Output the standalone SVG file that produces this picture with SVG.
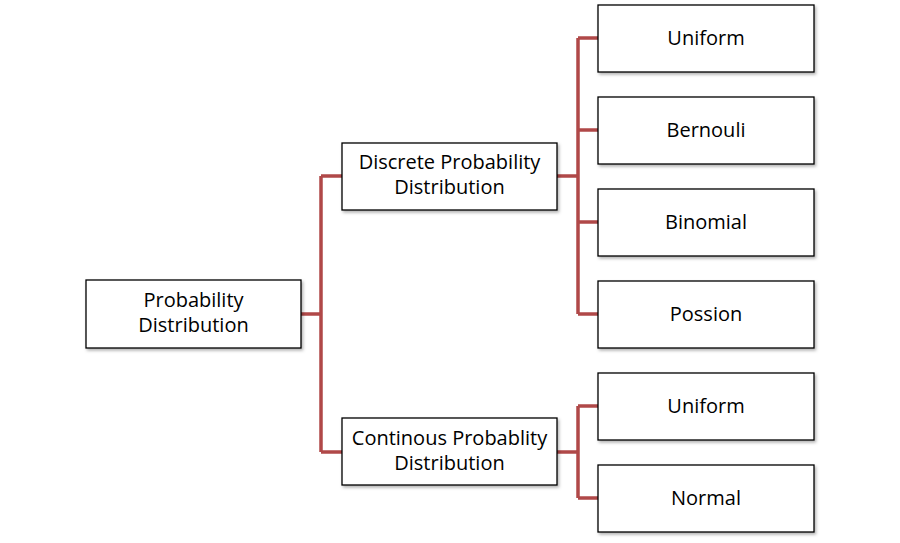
<svg xmlns="http://www.w3.org/2000/svg" width="900" height="543" viewBox="0 0 900 543">
<defs>
<filter id="sh" x="-10%" y="-10%" width="130%" height="140%"><feDropShadow dx="1.5" dy="2" stdDeviation="1.5" flood-color="#000" flood-opacity="0.3"/></filter>
</defs>
<style>
.b{fill:#fff;stroke:#000;stroke-width:1.3;filter:url(#sh)}
.t{font-family:"Open Sans","Liberation Sans",sans-serif;font-size:20px;fill:#000;text-anchor:middle}
.c{fill:none;stroke:#b04848;stroke-width:3.5}
</style>
<rect width="900" height="543" fill="#fff"/>
<g id="connectors">
<path class="c" d="M301 314H321M321 176V452M321 176H342M321 452H342"/>
<path class="c" d="M557 176H578M578 38V314M578 38H598M578 130H598M578 222H598M578 314H598"/>
<path class="c" d="M557 452H578M578 406V498M578 406H598M578 498H598"/>
</g>
<g id="root"><rect class="b" x="86" y="280" width="215" height="68"/><text class="t" x="193.5" y="307">Probability</text><text class="t" x="193.5" y="332">Distribution</text></g>
<g id="discrete"><rect class="b" x="342" y="143" width="215" height="67"/><text class="t" x="449.5" y="169">Discrete Probability</text><text class="t" x="449.5" y="194">Distribution</text></g>
<g id="continuous"><rect class="b" x="342" y="418" width="215" height="67"/><text class="t" x="449.5" y="445">Continous Probablity</text><text class="t" x="449.5" y="470">Distribution</text></g>
<g id="uniform1"><rect class="b" x="598" y="5" width="216" height="67"/><text class="t" x="706" y="45">Uniform</text></g>
<g id="bernouli"><rect class="b" x="598" y="97" width="216" height="67"/><text class="t" x="706" y="137">Bernouli</text></g>
<g id="binomial"><rect class="b" x="598" y="189" width="216" height="67"/><text class="t" x="706" y="229">Binomial</text></g>
<g id="possion"><rect class="b" x="598" y="281" width="216" height="67"/><text class="t" x="706" y="321">Possion</text></g>
<g id="uniform2"><rect class="b" x="598" y="373" width="216" height="67"/><text class="t" x="706" y="413">Uniform</text></g>
<g id="normal"><rect class="b" x="598" y="465" width="216" height="67"/><text class="t" x="706" y="505">Normal</text></g>
</svg>
